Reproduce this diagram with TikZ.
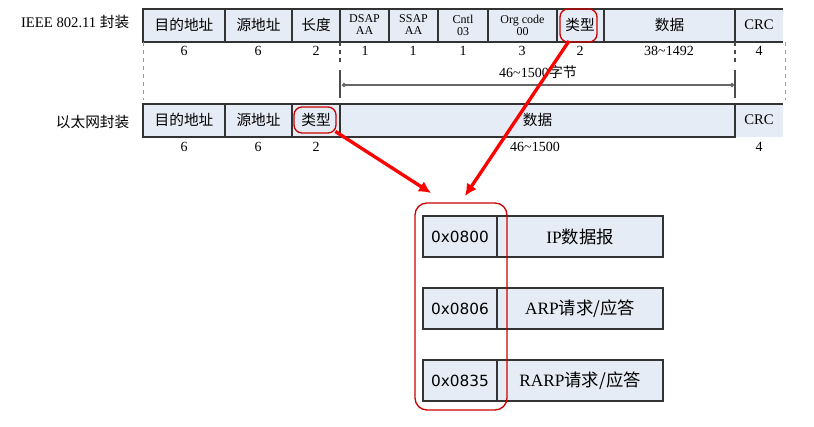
\documentclass[tikz,border=0pt]{standalone}
\usepackage{fontspec}
\usetikzlibrary{arrows.meta}
\setmainfont{Liberation Serif}
\newfontfamily\cjk{Noto Sans CJK SC}
\newfontfamily\hexf{DejaVu Sans}
\begin{document}
\begin{tikzpicture}[x=0.75pt,y=-0.75pt,
  cell/.style={draw=black!80,fill=cellbg,line width=0.8pt},
  lbl/.style={font=\fontsize{11}{12}\selectfont},
  sm/.style={font=\fontsize{9}{9}\selectfont,align=center},
  num/.style={font=\fontsize{10.5}{11}\selectfont},
  redc/.style={draw=red!80!black,line width=1pt,rounded corners=6pt},
  redarr/.style={red,line width=2.5pt,-{Latex[length=9pt,width=9pt]}}]
\definecolor{cellbg}{HTML}{E6ECF5}
\useasboundingbox (0,0) rectangle (814,426);
% left labels
\node[lbl,anchor=east] (l1) at (134,22) {IEEE 802.11 {\cjk 封装}};
\node[lbl,anchor=east] (l2) at (134,122) {\cjk 以太网封装};
% top row
\foreach \a/\b/\t [count=\i] in {143/225/{\cjk 目的地址},225/292/{\cjk 源地址},292/340/{\cjk 长度},604/735/{\cjk 数据}}{
  \draw[cell] (\a,9) rectangle (\b,42);
  \node[lbl] (t\i) at ({(\a+\b)/2},25) {\t};}
\foreach \a/\b/\t [count=\i] in {340/389/{DSAP\\AA},389/438/{SSAP\\AA},438/488/{Cntl\\03},488/557/{Org code\\00}}{
  \draw[cell] (\a,9) rectangle (\b,42);
  \node[sm] (s\i) at ({(\a+\b)/2},25) {\t};}
\draw[cell] (557,9) rectangle (604,42);
\node[lbl] (tt) at (580,25) {\cjk 类型};
\fill[cellbg] (735,9) rectangle (783,42);
\draw[black!80,line width=0.8pt] (735,9) -- (783,9) (735,42) -- (783,42) (735,9) -- (735,42);
\node[lbl] (tc) at (759,25) {CRC};
% numbers
\foreach \x/\t in {184/6,258/6,316/2,365/1,413/1,463/1,522/3,580/2,669/{38\textasciitilde1492},759/4}
  \node[num] at (\x,51) {\t};
\node[num] (len) at (538,72) {46\textasciitilde1500{\cjk 字节}};
\coordinate (la) at (342,85); \coordinate (lb) at (734,85);
\draw[black!60,line width=1pt,{Circle[open,length=3pt]}-{Circle[open,length=3pt]}] (la) -- (lb);
\draw[black!40,dashed,line width=0.6pt] (143,42) -- (143,100) (785,42) -- (785,100);
\draw[black!70,dashed,line width=0.8pt] (340,42) -- (340,62) (735,42) -- (735,62);
\draw[black!70,line width=0.8pt] (340,70) -- (340,98) (735,70) -- (735,98);
% bottom row
\foreach \a/\b/\t [count=\i] in {143/225/{\cjk 目的地址},225/292/{\cjk 源地址},292/340/{},340/735/{\cjk 数据}}{
  \draw[cell] (\a,104) rectangle (\b,137);
  \node[lbl] (b\i) at ({(\a+\b)/2},120) {\t};}
\node[lbl] (bt) at (316,120) {\cjk 类型};
\fill[cellbg] (735,104) rectangle (783,137);
\draw[black!80,line width=0.8pt] (735,104) -- (783,104) (735,104) -- (735,137);
\node[lbl] at (759,120) {CRC};
\foreach \x/\t in {184/6,258/6,316/2,535/{46\textasciitilde1500},759/4}
  \node[num] at (\x,147) {\t};
% red circles
\draw[redc] (560,9) rectangle (597,42);
\draw[redc] (294,107) rectangle (336,133);
% right boxes
\foreach \y/\h/\t [count=\i] in {216/{0x0800}/{IP{\cjk 数据报}},288/{0x0806}/{ARP{\cjk 请求/应答}},360/{0x0835}/{RARP{\cjk 请求/应答}}}{
  \draw[cell] (423,\y) rectangle (497,\y+41);
  \draw[cell] (497,\y) rectangle (663,\y+41);
  \node[font=\hexf\fontsize{11.5}{13}\selectfont] (h\i) at (460,\y+20.5) {\h};
  \node[font=\fontsize{13}{14}\selectfont] (d\i) at (580,\y+20.5) {\t};}
\node[redc,rounded corners=9pt,minimum width=92pt*0.75,minimum height=207pt*0.75,inner sep=0pt] (grp) at (461,306.5) {};
% arrows
\coordinate (e1) at (431,193); \coordinate (e2) at (465,196);
\draw[redarr] (bt.south east) -- (e1);
\draw[redarr] (569,41) -- (e2);
\end{tikzpicture}
\end{document}
